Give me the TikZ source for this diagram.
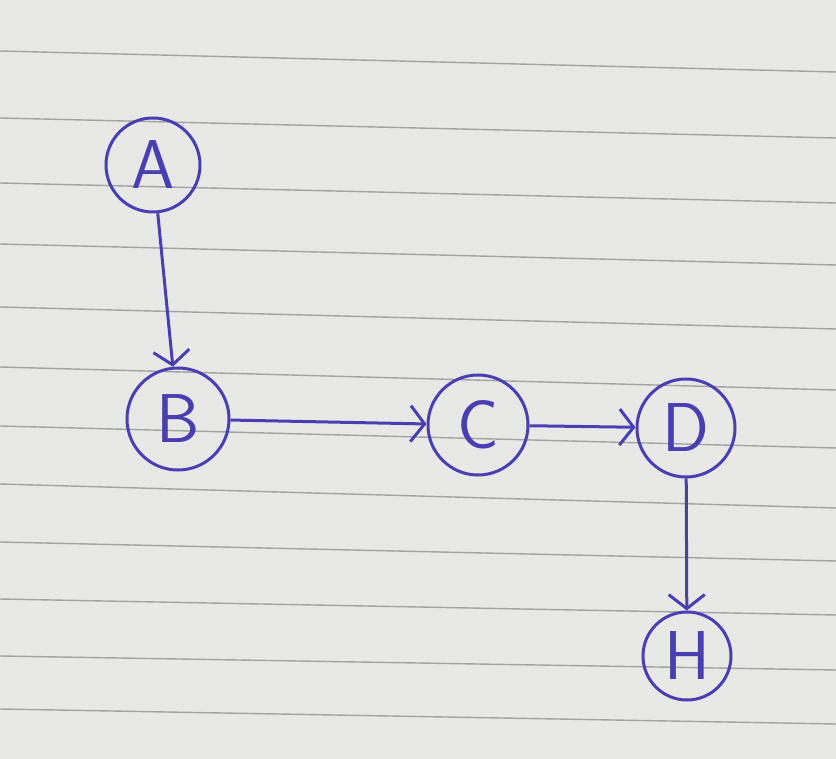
\documentclass[tikz,border=0pt]{standalone}
\usetikzlibrary{arrows.meta}
\newlength{\du}
\setlength{\du}{0.25pt}
\definecolor{inkcolor}{rgb}{0.290000, 0.247000, 0.690000}
\definecolor{papercolor}{rgb}{0.910000, 0.910000, 0.905000}
\definecolor{rulecolor}{rgb}{0.640000, 0.640000, 0.640000}
\tikzset{
	vertex/.style={circle, draw=inkcolor, line width=3\du, inner sep=0pt, text=inkcolor, font=\sffamily\LARGE},
	edge/.style={draw=inkcolor, line width=3\du, -{Straight Barb[length=3.5pt,width=9pt]}},
	rule/.style={draw=rulecolor, line width=1.4\du}
}

\begin{document}
\begin{tikzpicture}
	\pgftransformxscale{1.000000}
	\pgftransformyscale{-1.000000}
	% paper
	\fill[papercolor] (0\du,0\du) rectangle (836\du,759\du);
	\useasboundingbox (0\du,0\du) rectangle (836\du,759\du);
	\foreach \yl/\yr in {51/72,118/138,183/203,244/265,307/329,367/390,426/448,484/508,542/561,599/615,656/670,709/724}
		\draw[rule] (0\du,\yl\du) -- (836\du,\yr\du);
	% nodes
	\node[vertex, minimum size=94\du] (a) at (153\du,165\du){A};
	\node[vertex, minimum size=102\du] (b) at (178\du,419\du){B};
	\node[vertex, minimum size=100\du] (c) at (478\du,425\du){C};
	\node[vertex, minimum size=98\du] (d) at (686\du,428\du){D};
	\node[vertex, minimum size=88\du] (h) at (687\du,656\du){H};
	% edges
	\draw[edge] (a) -- (b);
	\draw[edge] (b) -- (c);
	\draw[edge] (c) -- (d);
	\draw[edge] (d) -- (h);
\end{tikzpicture}
\end{document}
